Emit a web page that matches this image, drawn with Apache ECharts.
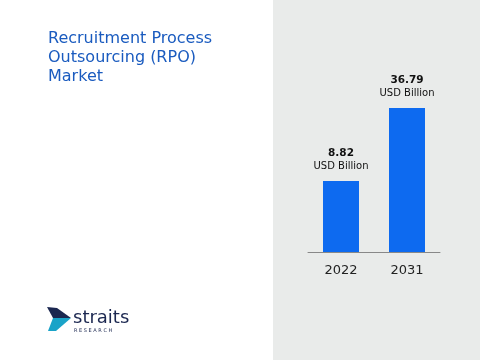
<!DOCTYPE html>
<html><head><meta charset="utf-8">
<script src="https://cdn.jsdelivr.net/npm/echarts@6/dist/echarts.min.js"></script>
<style>html,body{margin:0;padding:0;background:#fff}#c{width:480px;height:360px}</style>
</head><body><div id="c"></div>
<script>
var categories = ['2022', '2031'];
var values = [8.82, 36.79];
var unitLabel = 'USD Billion';
var titleText = 'Recruitment Process\nOutsourcing (RPO)\nMarket';

var chart = echarts.init(document.getElementById('c'), null, {renderer: 'canvas'});
chart.setOption({
  backgroundColor: '#ffffff',
  animation: false,
  graphic: [
    {type: 'rect', left: 273, top: 0, shape: {width: 207, height: 360}, style: {fill: '#e9ebea'}, z: -10},
    {type: 'text', left: 48, top: 29, style: {text: titleText, fill: '#1a5bbf', font: '16px "DejaVu Sans", sans-serif', lineHeight: 19}},
    {type: 'polygon', shape: {points: [[47, 307], [57, 308], [71, 318], [53, 318]]}, style: {fill: '#1b2750'}},
    {type: 'polygon', shape: {points: [[53, 318], [71, 318], [56, 331], [48, 331]]}, style: {fill: '#1aa3c8'}},
    {type: 'text', left: 73, top: 309, style: {text: 'straits', fill: '#1b2750', font: '18px "DejaVu Sans", sans-serif'}},
    {type: 'text', left: 74, top: 328, style: {text: 'R E S E A R C H', fill: '#1b2750', font: '5px "DejaVu Sans", sans-serif'}}
  ],
  grid: {left: 308, right: 40, top: 108, bottom: 108},
  xAxis: {
    type: 'category', data: categories,
    axisLine: {onZero: false, lineStyle: {color: '#888', width: 1}},
    axisTick: {show: false},
    axisLabel: {color: '#222', fontSize: 13, margin: 12, fontFamily: 'DejaVu Sans'}
  },
  yAxis: {type: 'log', logBase: 10, min: 2.2, max: 36.79, show: false, splitLine: {show: false}},
  series: [{
    type: 'bar', data: values, barWidth: 36, clip: true,
    itemStyle: {color: '#0d6af0'},
    label: {
      show: true, position: 'top', distance: 8,
      formatter: function (p) { return '{v|' + p.value.toFixed(2) + '}\n{u|' + unitLabel + '}'; },
      rich: {
        v: {fontSize: 10.5, fontWeight: 'bold', color: '#111', fontFamily: 'DejaVu Sans', lineHeight: 13},
        u: {fontSize: 10, color: '#111', fontFamily: 'DejaVu Sans', lineHeight: 13}
      }
    }
  }]
});
</script></body></html>
